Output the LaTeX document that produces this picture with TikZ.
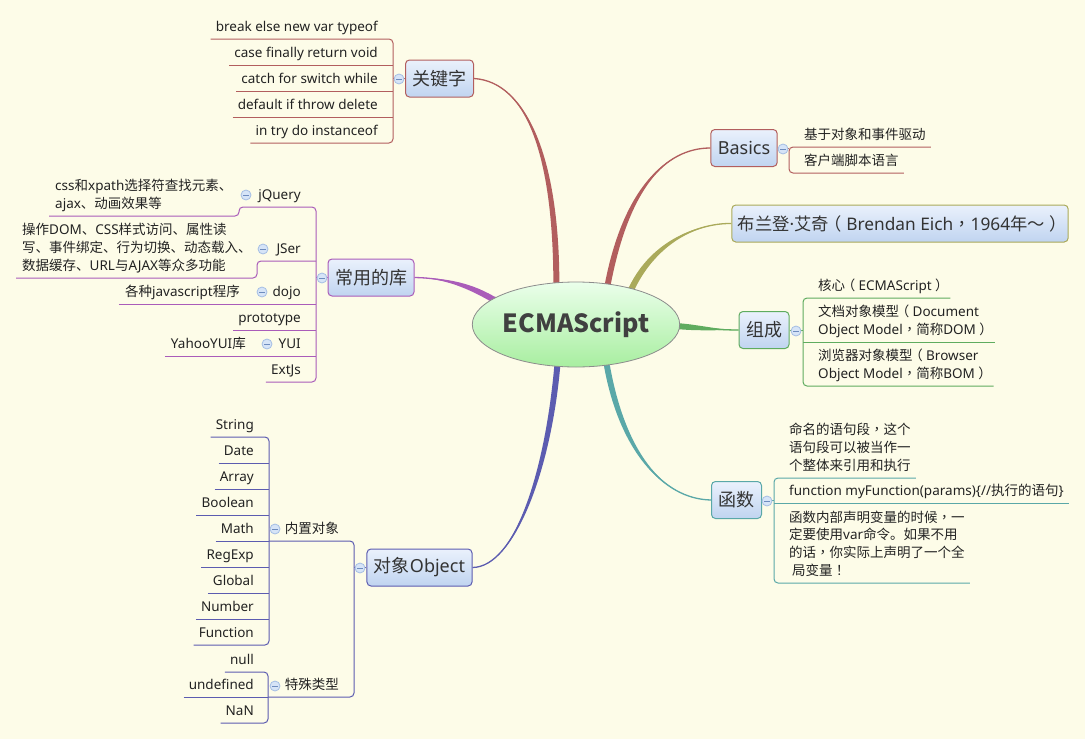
\documentclass[tikz,border=0pt]{standalone}
\usepackage{fontspec}
\setmainfont{Noto Sans}
\newfontfamily\cjkfont{Noto Sans CJK SC}
\newfontfamily\punctfont{Noto Sans CJK TC}
\usetikzlibrary{calc,shapes.geometric}
% switch CJK characters to the CJK font, centred full-width punctuation to the TC face
\XeTeXinterchartokenstate=1
\newXeTeXintercharclass\cjkcls
\newXeTeXintercharclass\pctcls
\newcount\cjkcnt
\newcommand\setcjkrange[3]{\cjkcnt=#1\relax\loop\XeTeXcharclass\cjkcnt=#3\relax\ifnum\cjkcnt<#2\relax\advance\cjkcnt by 1\relax\repeat}
\setcjkrange{"3000}{"303F}{\cjkcls}
\setcjkrange{"4E00}{"9FFF}{\cjkcls}
\setcjkrange{"FF00}{"FFEF}{\cjkcls}
\XeTeXcharclass"FF0C=\pctcls
\XeTeXcharclass"FF01=\pctcls
\XeTeXinterchartoks 0 \cjkcls = {\begingroup\cjkfont}
\XeTeXinterchartoks 4095 \cjkcls = {\begingroup\cjkfont}
\XeTeXinterchartoks \cjkcls 0 = {\endgroup}
\XeTeXinterchartoks \cjkcls 4095 = {\endgroup}
\XeTeXinterchartoks 0 \pctcls = {\begingroup\punctfont}
\XeTeXinterchartoks 4095 \pctcls = {\begingroup\punctfont}
\XeTeXinterchartoks \pctcls 0 = {\endgroup}
\XeTeXinterchartoks \pctcls 4095 = {\endgroup}
\XeTeXinterchartoks \cjkcls \pctcls = {\endgroup\begingroup\punctfont}
\XeTeXinterchartoks \pctcls \cjkcls = {\endgroup\begingroup\cjkfont}
% full-width parentheses drawn centred in their em box
\catcode`（=\active
\def（{{\cjkfont\kern-0.25em\char"FF08\kern0.25em}}
\catcode`）=\active
\def）{{\cjkfont\kern0.25em\char"FF09\kern-0.25em}}
\definecolor{bg}{RGB}{253,252,232}
\definecolor{txt}{RGB}{34,34,34}
\definecolor{kwc}{RGB}{178,94,94}
\definecolor{olc}{RGB}{170,170,90}
\definecolor{grc}{RGB}{95,172,95}
\definecolor{tlc}{RGB}{90,168,168}
\definecolor{blc}{RGB}{92,92,176}
\definecolor{puc}{RGB}{170,92,185}
\definecolor{boxtop}{RGB}{234,241,252}
\definecolor{boxbot}{RGB}{192,212,240}
\definecolor{cbfill}{RGB}{214,228,247}
\definecolor{cbdraw}{RGB}{165,190,228}
\definecolor{cbminus}{RGB}{110,140,190}
\newcommand\leaffont{\fontsize{13.5}{17.8}\selectfont}
\newcommand\topicfont{\fontsize{18}{22}\selectfont}
\newcommand\rootfont{\fontsize{25}{30}\selectfont\cjkfont\bfseries}
\newcommand\branchto[6]{%
  \fill[#1] #2 .. controls #3 and ($#4+(#6)$) .. ($#5+(#6)$) -- (root.center) -- ($#5-(#6)$) .. controls ($#4-(#6)$) and #3 .. #2 -- cycle;
  \draw[#1, line width=1.3pt] #2 .. controls #3 and #4 .. #5;}
\newcommand\ulL[3]{\draw[#1] ($(#2.south west)+(-5,0)$) -- (#2.south -| #3);}
\newcommand\ulR[3]{\draw[#1] (#2.south -| #3) -- ($(#2.south east)+(5,0)$);}
\pgfdeclarelayer{under}
\pgfsetlayers{under,main}
\begin{document}
\begin{tikzpicture}[x=1pt,y=-1pt,
  leaf/.style={inner xsep=0pt, inner ysep=2pt, font=\leaffont, text=txt, align=left,
    execute at begin node=\strut, execute at end node=\strut},
  lleaf/.style={leaf, anchor=south east},
  rleaf/.style={leaf, anchor=south west},
  topic/.style={draw=#1, line width=1pt, rounded corners=4pt, top color=boxtop, bottom color=boxbot,
    minimum height=37pt, inner xsep=7pt, inner ysep=0pt, font=\topicfont, text=black!80},
  cb/.style={circle, minimum size=10pt, inner sep=0pt, fill=cbfill, draw=cbdraw, line width=0.8pt,
    path picture={\draw[cbminus, line width=0.9pt] ([xshift=-2.6pt]path picture bounding box.center) -- ([xshift=2.6pt]path picture bounding box.center);}},
  kwl/.style={draw=kwc, line width=1pt},
  libl/.style={draw=puc, line width=1pt},
  objl/.style={draw=blc, line width=1pt},
  grnl/.style={draw=grc, line width=1pt},
  fnl/.style={draw=tlc, line width=1pt},
  rootsh/.style={ellipse, draw=black!45, line width=0.8pt, top color=green!8!white, bottom color={rgb,255:red,168;green,238;blue,160},
    minimum width=204pt, minimum height=85pt, inner sep=0pt, font=\rootfont, text=black!75}
]
\begin{pgfonlayer}{under}
\fill[bg] (0,0) rectangle (1085,739);
\end{pgfonlayer}
\useasboundingbox (0,0) rectangle (1085,739);

% root
\node[rootsh] (root) at (576,324.5) {ECMAScript};

% ---------- 关键字 ----------
\node[topic=kwc] (kw) at (439.5,78.5) {关键字};
\coordinate (kv) at (393,0);
\node[lleaf] (k1) at (378,39) {break else new var typeof};
\node[lleaf] (k2) at (378,65) {case finally return void};
\node[lleaf] (k3) at (378,91) {catch for switch while};
\node[lleaf] (k4) at (378,117) {default if throw delete};
\node[lleaf] (k5) at (378,143) {in try do instanceof};
\draw[kwl, rounded corners=4pt] ($(k1.south west)+(-5,0)$) -- (k1.south -| kv) -- (k5.south -| kv) -- ($(k5.south west)+(-5,0)$);
\ulL{kwl}{k2}{kv}
\ulL{kwl}{k3}{kv}
\ulL{kwl}{k4}{kv}
\draw[kwl] (kv |- kw) -- (kw.west);
\node[cb] (kwcb) at (399,79) {};

% ---------- 常用的库 ----------
\node[topic=puc] (lib) at (371,277.5) {常用的库};
\coordinate (lv) at (316,0);
\coordinate (jqj) at (239,207);
\coordinate (jsj) at (257,261);
\node[lleaf] (jq) at (301,207) {jQuery};
\node[rleaf] (css) at (55,216) {css和xpath选择符查找元素、\\ajax、动画效果等};
\node[lleaf] (js) at (301,261) {JSer};
\node[rleaf] (jsd) at (22,278) {操作DOM、CSS样式访问、属性读\\写、事件绑定、行为切换、动态载入、\\数据缓存、URL与AJAX等众多功能};
\node[lleaf] (dj) at (301,304) {dojo};
\node[lleaf] (djd) at (240,304) {各种javascript程序};
\node[lleaf] (pr) at (301,330) {prototype};
\node[lleaf] (yu) at (301,356) {YUI};
\node[lleaf] (yud) at (246,356) {YahooYUI库};
\node[lleaf] (ex) at (301,382) {ExtJs};
\draw[libl, rounded corners=4pt] ($(css.south west)+(-6,0)$) -- (jqj |- css.south) -- (jqj) -- (jq.south -| lv) -- (ex.south -| lv) -- ($(ex.south west)+(-5,0)$);
\draw[libl, rounded corners=4pt] ($(jsd.south west)+(-6,0)$) -- (jsj |- jsd.south) -- (jsj) -- (js.south -| lv);
\draw[libl] ($(djd.south west)+(-6,0)$) -- (dj.south -| lv);
\ulL{libl}{pr}{lv}
\draw[libl] ($(yud.south west)+(-6,0)$) -- (yu.south -| lv);
\draw[libl] (lv |- lib) -- (lib.west);
\node[cb] (libcb) at (322,278) {};
\node[cb] (jqcb) at (246,195) {};
\node[cb] (jscb) at (263,249) {};
\node[cb] (djcb) at (262,292) {};
\node[cb] (yucb) at (267,344) {};

% ---------- 对象Object ----------
\node[topic=blc] (obj) at (419.5,567.5) {对象Object};
\coordinate (ov) at (354,0);
\coordinate (bv) at (269,0);
\coordinate (sv) at (268,0);
\node[lleaf] (bi) at (339,541) {内置对象};
\node[lleaf] (sp) at (339,697) {特殊类型};
\node[lleaf] (o1) at (254,437) {String};
\node[lleaf] (o2) at (254,463) {Date};
\node[lleaf] (o3) at (254,489) {Array};
\node[lleaf] (o4) at (254,515) {Boolean};
\node[lleaf] (o5) at (254,541) {Math};
\node[lleaf] (o6) at (254,567) {RegExp};
\node[lleaf] (o7) at (254,593) {Global};
\node[lleaf] (o8) at (254,619) {Number};
\node[lleaf] (o9) at (254,645) {Function};
\node[lleaf] (s1) at (254,672) {null};
\node[lleaf] (s2) at (254,697) {undefined};
\node[lleaf] (s3) at (254,723) {NaN};
\draw[objl, rounded corners=4pt] (bv |- bi.south) -- (ov |- bi.south) -- (ov |- sp.south) -- (sv |- sp.south);
\draw[objl, rounded corners=4pt] ($(o1.south west)+(-5,0)$) -- (bv |- o1.south) -- (bv |- o9.south) -- ($(o9.south west)+(-5,0)$);
\ulL{objl}{o2}{bv}
\ulL{objl}{o3}{bv}
\ulL{objl}{o4}{bv}
\ulL{objl}{o5}{bv}
\ulL{objl}{o6}{bv}
\ulL{objl}{o7}{bv}
\ulL{objl}{o8}{bv}
\draw[objl, rounded corners=4pt] ($(s1.south west)+(-5,0)$) -- (sv |- s1.south) -- (sv |- s3.south) -- ($(s3.south west)+(-5,0)$);
\ulL{objl}{s2}{sv}
\draw[objl] (ov |- obj) -- (obj.west);
\node[cb] (objcb) at (360,568) {};
\node[cb] (bicb) at (275,529) {};
\node[cb] (spcb) at (275,686) {};

% ---------- Basics ----------
\node[topic=kwc] (bs) at (744,148) {Basics};
\coordinate (bsv) at (789,0);
\node[rleaf] (b1) at (804,147) {基于对象和事件驱动};
\node[rleaf] (b2) at (804,173) {客户端脚本语言};
\draw[kwl, rounded corners=4pt] ($(b1.south east)+(5,0)$) -- (bsv |- b1.south) -- (bsv |- b2.south) -- ($(b2.south east)+(5,0)$);
\draw[kwl] (bs.east) -- (bsv |- bs);
\node[cb] (bscb) at (783,149) {};

% ---------- 布兰登 ----------
\node[topic=olc, font=\fontsize{17.3}{21}\selectfont, inner xsep=6pt] (br) at (900,223.5) {布兰登·艾奇（Brendan Eich，1964年～）};

% ---------- 组成 ----------
\node[topic=grc] (zc) at (764,330) {组成};
\coordinate (zv) at (803,0);
\node[rleaf] (z1) at (818,298) {核心（ECMAScript）};
\node[rleaf] (z2) at (818,342) {文档对象模型（Document\\Object Model，简称DOM）};
\node[rleaf] (z3) at (818,386) {浏览器对象模型（Browser\\Object Model，简称BOM）};
\draw[grnl, rounded corners=4pt] ($(z1.south east)+(5,0)$) -- (zv |- z1.south) -- (zv |- z3.south) -- ($(z3.south east)+(5,0)$);
\ulR{grnl}{z2}{zv}
\draw[grnl] (zc.east) -- (zv |- zc);
\node[cb] (zccb) at (796,331) {};

% ---------- 函数 ----------
\node[topic=tlc] (fn) at (736.5,500) {函数};
\coordinate (fv) at (774,0);
\node[rleaf] (f1) at (789,478) {命名的语句段，这个\\语句段可以被当作一\\个整体来引用和执行};
\node[rleaf] (f2) at (789,503) {function myFunction(params)\{//执行的语句\}};
\node[rleaf] (f3) at (789,583) {函数内部声明变量的时候，一\\定要使用var命令。如果不用\\的话，你实际上声明了一个全\\\hspace*{3pt}局变量！};
\draw[fnl, rounded corners=4pt] ($(f1.south east)+(5,0)$) -- (fv |- f1.south) -- (fv |- f3.south) -- ($(f3.south east)+(5,0)$);
\ulR{fnl}{f2}{fv}
\draw[fnl] (fn.east) -- (fv |- fn);
\node[cb] (fncb) at (767,501) {};

% ---------- main branches ----------
\begin{pgfonlayer}{under}
\branchto{kwc}{(kw.east)}{(528,82)}{(556,160)}{(root.115)}{3,0}
\branchto{kwc}{(bs.west)}{(665,148)}{(626,190)}{(root.52)}{3,0}
\branchto{olc}{(br.west)}{(700,223)}{(655,240)}{(root.33)}{2.7,1.3}
\branchto{grc}{(zc.west)}{(720,330)}{(700,328)}{(root.-1)}{0,3}
\branchto{tlc}{(fn.west)}{(662,499)}{(622,450)}{(root.307)}{3,0}
\branchto{blc}{(obj.east)}{(515,567)}{(548,470)}{(root.246)}{3,0}
\branchto{puc}{(lib.east)}{(440,278)}{(465,283)}{(root.163)}{-1.5,2.6}
\end{pgfonlayer}
\end{tikzpicture}
\end{document}
